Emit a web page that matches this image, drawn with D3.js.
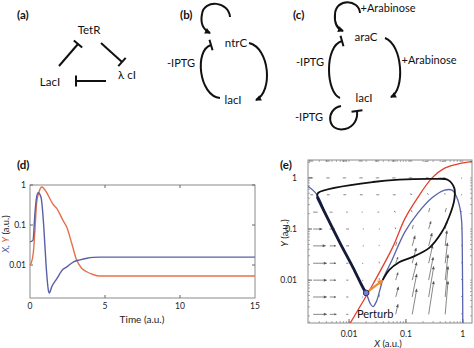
<!DOCTYPE html>
<html><head><meta charset="utf-8">
<script src="https://cdn.jsdelivr.net/npm/d3@7"></script>
<style>body{margin:0;background:#fff}svg{display:block}text{font-family:Lato,"Open Sans",sans-serif}</style>
</head><body>
<svg id="c" width="474" height="348"></svg>
<script>
// ---------- Panel (d) data: time courses ----------
const timeX = [0, 0.2, 0.33, 0.44, 0.55, 0.73, 0.89, 1.0, 1.11, 1.22, 1.29, 1.44, 1.78, 2.2, 2.44, 2.9, 3.33, 3.8, 4.2, 4.67, 5.5, 15];
const valX  = [0.038, 0.042, 0.2, 0.5, 0.64, 0.5, 0.13, 0.028, 0.0063, 0.0024, 0.002, 0.0028, 0.0045, 0.0078, 0.0089, 0.012, 0.0135, 0.0148, 0.0155, 0.0158, 0.0158, 0.0158];
const timeY = [0, 0.07, 0.22, 0.33, 0.44, 0.6, 0.8, 1.0, 1.56, 1.78, 2.2, 2.44, 2.78, 3.07, 3.44, 3.78, 4.2, 4.67, 5.5, 15];
const valY  = [0.01, 0.011, 0.02, 0.075, 0.35, 0.67, 0.89, 0.75, 0.32, 0.26, 0.13, 0.09, 0.035, 0.0146, 0.0083, 0.0068, 0.0058, 0.0053, 0.0053, 0.0053];
const dTicksX = [0, 5, 10, 15];
const dTicksY = [1, 0.1, 0.01];
const dTickLabelsY = ["1", "0.1", "0.01"];

// ---------- Panel (e) data: phase plane ----------
const nullXx = [0.00178, 0.00275, 0.00407, 0.00692, 0.0117, 0.0178, 0.0200, 0.0234, 0.0263, 0.0302, 0.0347, 0.0398, 0.0562, 0.0955, 0.162, 0.288, 0.479, 0.646, 0.776, 0.891, 0.955, 0.977, 0.989, 1.0];
const nullXy = [0.724, 0.468, 0.174, 0.0537, 0.0178, 0.00692, 0.00562, 0.00355, 0.00302, 0.0038, 0.00631, 0.0107, 0.024, 0.0871, 0.204, 0.407, 0.575, 0.575, 0.427, 0.257, 0.138, 0.0501, 0.01, 0.00126];
const nullYx = [0.0100, 0.0263, 0.0589, 0.0955, 0.158, 0.288, 0.479, 0.955, 1.58];
const nullYy = [0.00132, 0.00832, 0.0447, 0.158, 0.398, 1.0, 1.55, 1.95, 2.14];
const trajX = [0.039, 0.051, 0.076, 0.129, 0.257, 0.417, 0.575, 0.708, 0.708, 0.550, 0.288, 0.0263, 0.00288, 0.00275];
const trajY = [0.01, 0.0158, 0.0224, 0.0282, 0.0427, 0.0832, 0.174, 0.372, 0.631, 0.912, 0.955, 0.832, 0.513, 0.427];
const returnX = [0.00275, 0.00407, 0.00692, 0.0117, 0.0178, 0.0200];
const returnY = [0.427, 0.174, 0.0537, 0.0178, 0.00692, 0.00562];
const fixedPoint = [0.0200, 0.00562];
const perturbEnd = [0.0385, 0.0098];
const fieldCols = [0.00234, 0.00457, 0.00891, 0.0174, 0.0339, 0.0661, 0.129, 0.251, 0.49, 0.955];
const fieldRows = [2.14, 1, 0.468, 0.214, 0.1, 0.0468, 0.0214, 0.01, 0.00468, 0.00214];
// arrow components in decades (log10 steps)
const fieldU = [
  [-.07,-.07,-.07,-.07,-.07,-.07,-.07,-.07,-.06,-.02],
  [-.06,-.06,-.06,-.06,-.06,-.06,-.06,-.05,-.04,-.01],
  [-.05,-.05,-.05,-.05,-.05,-.05,-.04,-.03,-.01,0],
  [.08,.05,.03,-.02,-.03,-.03,-.02,.02,.02,0],
  [.16,.09,.05,.02,0,-.01,.02,.04,.03,0],
  [.22,.11,.05,.02,0,.02,.05,.06,.03,0],
  [.24,.11,.04,.01,0,.04,.07,.07,.04,0],
  [.24,.11,.04,0,0,.04,.08,.08,.05,0],
  [.24,.11,.04,0,0,.05,.08,.09,.05,0],
  [.24,.12,.04,0,0,.04,.08,.09,.05,0]];
const fieldV = [
  [0,0,0,0,0,0,0,-.01,-.01,-.01],
  [0,0,0,0,0,0,0,0,0,0],
  [0,0,0,0,0,0,.02,.03,.03,0],
  [0,0,0,0,0,.02,.04,.08,.08,.02],
  [0,0,0,0,0,.03,.08,.15,.15,.02],
  [0,0,0,0,.02,.08,.2,.25,.3,.02],
  [0,0,0,0,.03,.12,.3,.35,.4,.02],
  [0,0,0,0,.04,.15,.35,.45,.5,.02],
  [0,0,0,0,.05,.2,.45,.6,.6,.02],
  [0,0,0,0,.05,.2,.5,.65,.65,.02]];
const eTicks = [1, 0.1, 0.01];
const eTickLabels = ["1", "0.1", "0.01"];

// ---------- Diagram labels ----------
const panelLabels = ["(a)", "(b)", "(c)", "(d)", "(e)"];
const genesA = ["TetR", "LacI", "λ cI"];
const genesB = ["ntrC", "lacI"];
const genesC = ["araC", "lacI"];
const inducers = ["-IPTG", "+Arabinose"];

// ---------- Drawing ----------
const svg = d3.select("#c");
svg.append("rect").attr("width", 474).attr("height", 348).attr("fill", "#fff");
const defs = svg.append("defs");
defs.append("marker").attr("id", "arr").attr("viewBox", "-6 -4 8 8").attr("refX", 0).attr("refY", 0)
  .attr("markerWidth", 8).attr("markerHeight", 8).attr("markerUnits", "userSpaceOnUse").attr("orient", "auto")
  .append("path").attr("d", "M-5,-3L1,0L-5,3Z").attr("fill", "#111");
defs.append("marker").attr("id", "bar").attr("viewBox", "-2 -6 4 12").attr("refX", 0).attr("refY", 0)
  .attr("markerWidth", 4).attr("markerHeight", 12).attr("markerUnits", "userSpaceOnUse").attr("orient", "auto")
  .append("path").attr("d", "M0,-5.5L0,5.5").attr("stroke", "#111").attr("stroke-width", 2);

const layout = {
  panelPos: [[17, 19], [180, 19], [293, 19], [17, 169], [280, 169]],
  a: { nodes: [[89, 34], [50, 86], [127, 79]],
       edges: [["M59,66L78,44", "bar"], ["M101,43L122,62", "bar"], ["M106,81L76,81", "bar"]] },
  b: { nodes: [[236, 47], [233, 104]], inputs: [[181, 67, 0]],
       edges: [["M230,17C229,1 204,-1 202,14C200,24 204,30 210,33", "arr"],
               ["M220,98C199,96 194,50 211,45", "bar"],
               ["M249,43C270,48 273,92 256,100", "arr"]] },
  c: { nodes: [[366, 41], [364, 102]], inputs: [[310, 66, 0], [388, 12, 1], [429, 64, 1], [309, 121, 0]],
       edges: [["M360,13C359,-1 336,-2 335,14C334,24 338,29 343,31", "arr"],
               ["M340,98C326,93 324,46 342,41", "bar"],
               ["M385,38C403,45 405,90 391,97", "arr"],
               ["M341,106C325,109 327,133 345,129C354,127 358,119 357,111", "bar"]] }
};

// panel labels
svg.selectAll("text.pl").data(panelLabels).join("text").attr("class", "pl")
  .attr("x", (d, i) => layout.panelPos[i][0]).attr("y", (d, i) => layout.panelPos[i][1])
  .attr("font-size", 11.5).attr("font-weight", "bold").attr("fill", "#111").text(d => d);

function drawDiagram(key, genes) {
  const L = layout[key];
  const g = svg.append("g");
  g.selectAll("text.g").data(genes).join("text")
    .attr("x", (d, i) => L.nodes[i][0]).attr("y", (d, i) => L.nodes[i][1])
    .attr("text-anchor", "middle").attr("font-size", 11.5).attr("fill", "#111").text(d => d);
  if (L.inputs) {
    g.selectAll("text.in").data(L.inputs).join("text")
      .attr("x", d => d[0]).attr("y", d => d[1]).attr("text-anchor", "middle")
      .attr("font-size", 11).attr("fill", "#111").text(d => inducers[d[2]]);
  }
  g.selectAll("path").data(L.edges).join("path").attr("d", d => d[0])
    .attr("fill", "none").attr("stroke", "#111").attr("stroke-width", 2)
    .attr("marker-end", d => "url(#" + d[1] + ")");
}
drawDiagram("a", genesA);
drawDiagram("b", genesB);
drawDiagram("c", genesC);

// ---------- Panel (d) ----------
const dxs = d3.scaleLinear().domain([0, 15]).range([30, 255]);
const dys = d3.scaleLog().domain([0.0015, 1]).range([298, 185]);
const gd = svg.append("g");
gd.append("rect").attr("x", 30).attr("y", 185).attr("width", 225).attr("height", 113)
  .attr("fill", "none").attr("stroke", "#8a8a8a").attr("stroke-width", 1);
gd.selectAll("line.tb").data(dTicksX.slice(1, 3)).join("line").attr("class", "tb")
  .attr("x1", d => dxs(d)).attr("x2", d => dxs(d)).attr("y1", 298).attr("y2", 295).attr("stroke", "#666");
gd.selectAll("line.tt").data(dTicksX.slice(1, 3)).join("line").attr("class", "tt")
  .attr("x1", d => dxs(d)).attr("x2", d => dxs(d)).attr("y1", 185).attr("y2", 188).attr("stroke", "#666");
gd.selectAll("line.tl").data(dTicksY).join("line").attr("class", "tl")
  .attr("x1", 30).attr("x2", 33).attr("y1", d => dys(d)).attr("y2", d => dys(d)).attr("stroke", "#666");
gd.selectAll("line.tr").data(dTicksY).join("line").attr("class", "tr")
  .attr("x1", 255).attr("x2", 252).attr("y1", d => dys(d)).attr("y2", d => dys(d)).attr("stroke", "#666");
gd.selectAll("text.xl").data(dTicksX).join("text").attr("class", "xl")
  .attr("x", d => dxs(d)).attr("y", 309).attr("text-anchor", "middle").attr("font-size", 8.5).attr("fill", "#222").text(d => d);
gd.selectAll("text.yl").data(dTicksY).join("text").attr("class", "yl")
  .attr("x", 26).attr("y", d => dys(d) + 3).attr("text-anchor", "end").attr("font-size", 8.5).attr("fill", "#222")
  .text((d, i) => dTickLabelsY[i]);
gd.append("text").attr("x", 142).attr("y", 323).attr("text-anchor", "middle").attr("font-size", 10).attr("fill", "#222").text("Time (a.u.)");
const ylab = gd.append("text").attr("transform", "translate(9,234) rotate(-90)").attr("text-anchor", "middle").attr("font-size", 9.5).attr("fill", "#222");
ylab.append("tspan").attr("fill", "#5a5fa6").attr("font-style", "italic").text("X,");
ylab.append("tspan").text(" ");
ylab.append("tspan").attr("fill", "#e0553a").attr("font-style", "italic").text("Y");
ylab.append("tspan").text(" (a.u.)");
const lineD = d3.line().x(d => dxs(d[0])).y(d => dys(d[1])).curve(d3.curveMonotoneX);
gd.append("path").attr("d", lineD(d3.zip(timeY, valY))).attr("fill", "none").attr("stroke", "#e4714c").attr("stroke-width", 1.4);
gd.append("path").attr("d", lineD(d3.zip(timeX, valX))).attr("fill", "none").attr("stroke", "#5a5fa6").attr("stroke-width", 1.4);

// ---------- Panel (e) ----------
const exs = d3.scaleLog().domain([0.0019, 1.45]).range([308, 472]);
const eys = d3.scaleLog().domain([0.00145, 2.24]).range([323, 160]);
const ge = svg.append("g");
defs.append("clipPath").attr("id", "clipE").append("rect").attr("x", 308).attr("y", 160).attr("width", 164).attr("height", 163);
const minorX = d3.range(-3, 1).flatMap(e => d3.range(1, 10).map(k => k * Math.pow(10, e))).filter(v => v >= 0.0019 && v <= 1.45);
const minorY = d3.range(-3, 1).flatMap(e => d3.range(1, 10).map(k => k * Math.pow(10, e))).filter(v => v >= 0.00145 && v <= 2.24);
ge.selectAll("line.mx").data(minorX).join("line").attr("class", "mx")
  .attr("x1", d => exs(d)).attr("x2", d => exs(d)).attr("y1", 160).attr("y2", 162).attr("stroke", "#888").attr("stroke-width", 0.7);
ge.selectAll("line.mxb").data(minorX).join("line").attr("class", "mxb")
  .attr("x1", d => exs(d)).attr("x2", d => exs(d)).attr("y1", 323).attr("y2", 321).attr("stroke", "#888").attr("stroke-width", 0.7);
ge.selectAll("line.my").data(minorY).join("line").attr("class", "my")
  .attr("x1", 308).attr("x2", 310).attr("y1", d => eys(d)).attr("y2", d => eys(d)).attr("stroke", "#888").attr("stroke-width", 0.7);
ge.selectAll("line.myr").data(minorY).join("line").attr("class", "myr")
  .attr("x1", 472).attr("x2", 470).attr("y1", d => eys(d)).attr("y2", d => eys(d)).attr("stroke", "#888").attr("stroke-width", 0.7);
ge.selectAll("line.Mx").data(eTicks).join("line").attr("class", "Mx")
  .attr("x1", d => exs(d)).attr("x2", d => exs(d)).attr("y1", 323).attr("y2", 319).attr("stroke", "#666");
ge.selectAll("line.My").data(eTicks).join("line").attr("class", "My")
  .attr("x1", 308).attr("x2", 312).attr("y1", d => eys(d)).attr("y2", d => eys(d)).attr("stroke", "#666");
ge.append("rect").attr("x", 308).attr("y", 160).attr("width", 164).attr("height", 163)
  .attr("fill", "none").attr("stroke", "#8a8a8a").attr("stroke-width", 1);
ge.selectAll("text.ex").data(eTicks).join("text").attr("class", "ex")
  .attr("x", d => exs(d)).attr("y", 337).attr("text-anchor", "middle").attr("font-size", 8.5).attr("fill", "#222")
  .text((d, i) => eTickLabels[i]);
ge.selectAll("text.ey").data(eTicks).join("text").attr("class", "ey")
  .attr("x", 297).attr("y", d => eys(d) + 3).attr("text-anchor", "end").attr("font-size", 8.5).attr("fill", "#222")
  .text((d, i) => eTickLabels[i]);
const xl = ge.append("text").attr("x", 388).attr("y", 347).attr("text-anchor", "middle").attr("font-size", 9.5).attr("fill", "#222");
xl.append("tspan").attr("font-style", "italic").text("X");
xl.append("tspan").text(" (a.u.)");
const yl = ge.append("text").attr("transform", "translate(288,233) rotate(-90)").attr("text-anchor", "middle").attr("font-size", 9.5).attr("fill", "#222");
yl.append("tspan").attr("font-style", "italic").text("Y");
yl.append("tspan").text(" (a.u.)");

const gc = ge.append("g").attr("clip-path", "url(#clipE)");
const arrows = [];
fieldRows.forEach((yv, r) => fieldCols.forEach((xv, c) => {
  arrows.push({ x0: xv, y0: yv, x1: xv * Math.pow(10, fieldU[r][c]), y1: yv * Math.pow(10, fieldV[r][c]) });
}));
const ag = gc.append("g").attr("stroke", "#555").attr("fill", "#555");
arrows.forEach(a => {
  const X0 = exs(a.x0), Y0 = eys(a.y0), X1 = exs(a.x1), Y1 = eys(a.y1);
  const len = Math.hypot(X1 - X0, Y1 - Y0);
  if (len < 0.8) { ag.append("circle").attr("cx", X0).attr("cy", Y0).attr("r", 0.5).attr("stroke", "none"); return; }
  ag.append("line").attr("x1", X0).attr("y1", Y0).attr("x2", X1).attr("y2", Y1).attr("stroke-width", 0.7);
  if (len > 5) {
    const ux = (X1 - X0) / len, uy = (Y1 - Y0) / len, h = Math.min(3, len * 0.3), w = h * 0.5;
    ag.append("path").attr("stroke", "none")
      .attr("d", `M${X1},${Y1}L${X1 - ux * h - uy * w},${Y1 - uy * h + ux * w}L${X1 - ux * h + uy * w},${Y1 - uy * h - ux * w}Z`);
  }
});
const lineE = d3.line().x(d => exs(d[0])).y(d => eys(d[1])).curve(d3.curveCatmullRom.alpha(0.5));
gc.append("path").attr("d", lineE(d3.zip(nullYx, nullYy))).attr("fill", "none").attr("stroke", "#e0402c").attr("stroke-width", 1.3);
gc.append("path").attr("d", lineE(d3.zip(nullXx, nullXy))).attr("fill", "none").attr("stroke", "#5a62aa").attr("stroke-width", 1.3);
gc.append("path").attr("d", lineE(d3.zip(trajX, trajY))).attr("fill", "none").attr("stroke", "#111").attr("stroke-width", 1.8);
gc.append("path").attr("d", lineE(d3.zip(returnX, returnY))).attr("fill", "none").attr("stroke", "#151a3a").attr("stroke-width", 2.8);
defs.append("marker").attr("id", "oarr").attr("viewBox", "-6 -4 8 8").attr("refX", 0).attr("refY", 0)
  .attr("markerWidth", 7).attr("markerHeight", 7).attr("markerUnits", "userSpaceOnUse").attr("orient", "auto")
  .append("path").attr("d", "M-5,-3.5L1,0L-5,3.5Z").attr("fill", "#f08a30");
gc.append("line").attr("x1", exs(fixedPoint[0])).attr("y1", eys(fixedPoint[1])).attr("x2", exs(perturbEnd[0])).attr("y2", eys(perturbEnd[1]))
  .attr("stroke", "#f08a30").attr("stroke-width", 2.2).attr("marker-end", "url(#oarr)");
gc.append("circle").attr("cx", exs(fixedPoint[0])).attr("cy", eys(fixedPoint[1])).attr("r", 2.8)
  .attr("fill", "#7a7fd0").attr("stroke", "#2a2f80").attr("stroke-width", 1);
ge.append("text").attr("x", exs(0.0138)).attr("y", eys(0.0018)).attr("font-size", 11).attr("fill", "#111").text("Perturb");
</script>
</body></html>
